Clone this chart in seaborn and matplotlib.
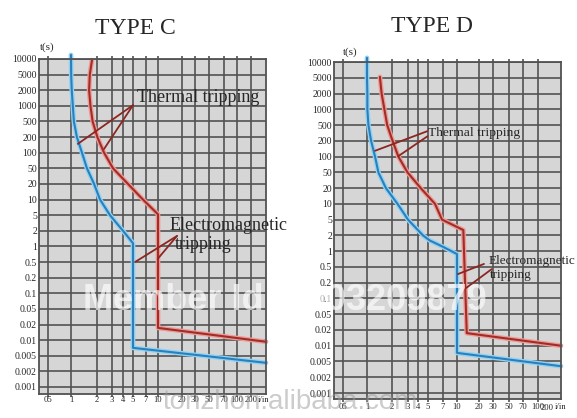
import matplotlib
matplotlib.use("Agg")
import matplotlib.pyplot as plt
import numpy as np
import pandas as pd
import seaborn as sns

# time axis (s), top to bottom, evenly spaced rows in the chart
t_levels = [10000, 5000, 2000, 1000, 500, 200, 100, 50, 20, 10, 5, 2, 1,
            0.5, 0.2, 0.1, 0.05, 0.02, 0.01, 0.005, 0.002, 0.001]
t_labels = ["10000", "5000", "2000", "1000", "500", "200", "100", "50", "20",
            "10", "5", "2", "1", "0.5", "0.2", "0.1", "0.05", "0.02", "0.01",
            "0.005", "0.002", "0.001"]

# current multiples (I/In)
i_levels_c = [0.5, 1, 2, 3, 4, 5, 7, 10, 20, 30, 50, 70, 100, 200]
i_labels_c = ["05", "1", "2", "3", "4", "5", "7", "10", "20", "30", "50",
              "70", "100", "200"]
i_levels_d = [0.5, 1, 2, 3, 4, 5, 7, 10, 20, 30, 50, 70, 100]
i_labels_d = ["05", "1", "2", "3", "4", "5", "7", "10", "20", "30", "50",
              "70", "100"]

# TYPE C curves
c_blue_i = [1.0, 1.005, 1.02, 1.05, 1.08, 1.17, 1.34, 1.53, 1.85, 2.17, 2.84, 4.0, 5.0, 5.0, 300]
c_blue_t = [12000, 5000, 2000, 1000, 500, 200, 100, 50, 20, 10, 5, 2, 1.15, 0.0071, 0.0033]
c_red_i = [1.75, 1.65, 1.62, 1.68, 1.78, 2.02, 2.42, 3.08, 4.47, 6.47, 10.0, 10.0, 300]
c_red_t = [9500, 5000, 2000, 1000, 500, 200, 100, 50, 20, 10, 5.2, 0.0172, 0.0093]

# TYPE D curves
d_blue_i = [1.0, 1.0, 1.01, 1.01, 1.04, 1.12, 1.25, 1.37, 1.69, 2.3, 3.0, 4.47, 5.2, 7.0, 10.0, 10.0, 600]
d_blue_t = [12000, 5000, 2000, 1000, 500, 200, 100, 50, 20, 10, 5, 2, 1.6, 1.21, 0.88, 0.0073, 0.0038]
d_red_i = [1.43, 1.50, 1.62, 1.75, 2.03, 2.35, 2.96, 4.25, 5.85, 6.85, 12.2, 13.6, 600]
d_red_t = [5200, 2000, 1000, 500, 200, 100, 50, 20, 10, 5, 2.73, 0.0174, 0.01]

# leader lines (apex -> point on curve)
c_thermal_leads = [((5.0, 1030), (1.2, 148)), ((5.0, 1030), (2.42, 118))]
c_em_leads = [((17.3, 1.59), (5.27, 0.5)), ((17.3, 1.59), (9.9, 0.574))]
d_thermal_leads = [((4.97, 353), (1.25, 129)), ((4.97, 263), (2.35, 102))]
d_em_leads = [((23.1, 0.57), (10.3, 0.33)), ((28.9, 0.44), (13.3, 0.158))]

BLUE = "#2b7fbd"
BLUE_HALO = "#8fd3f3"
RED = "#a02d27"
RED_HALO = "#ee9a96"
GRID = "#525252"
BG = "#d6d6d6"


def make_scale(vals, pos):
    lv = np.log10(np.asarray(vals, float))
    p = np.asarray(pos, float)

    def fwd(v):
        v = np.clip(np.asarray(v, float), 1e-9, None)
        return np.interp(np.log10(v), lv, p)

    def inv(q):
        return 10 ** np.interp(np.asarray(q, float), p, lv)

    return fwd, inv


# y: evenly spaced rows; one extra anchor above and below
y_vals = [0.0005] + t_levels[::-1] + [20000]
y_pos = [-22] + [-k for k in range(len(t_levels) - 1, -1, -1)] + [1]
y_fwd, y_inv = make_scale(y_vals, y_pos)

# x: grid column positions (px from the left border)
x_fwd_c, x_inv_c = make_scale(
    [0.38] + i_levels_c + [300],
    [0, 9, 32, 58, 73, 84, 94, 107, 119, 143, 156, 170, 185, 198, 212, 227])
x_fwd_d, x_inv_d = make_scale(
    [0.38] + i_levels_d + [600],
    [0, 9, 33, 58, 74, 84, 94, 109, 123, 145, 159, 175, 189, 204, 227])

sns.set_style("white")
plt.rcParams["font.family"] = ["Liberation Serif", "DejaVu Serif"]

W, H = 577, 418
fig = plt.figure(figsize=(W / 100, H / 100), dpi=100)
ax_c = fig.add_axes([39 / W, 1 - 394 / H, 227 / W, 335 / H])
ax_d = fig.add_axes([334 / W, 1 - 399 / H, 227 / W, 337 / H])


def setup_axes(ax, x_fns, i_levels, i_labels, xmax, bottom_idx, tick_pad):
    ax.set_xscale("function", functions=x_fns)
    ax.set_yscale("function", functions=(y_fwd, y_inv))
    ax.set_xlim(0.38, xmax)
    ax.set_ylim(float(y_inv(-bottom_idx)), 10000)
    ax.set_facecolor(BG)
    ax.set_xticks(i_levels, labels=i_labels)
    ax.set_yticks(t_levels, labels=t_labels)
    ax.minorticks_off()
    ax.grid(True, which="major", color=GRID, lw=1.2)
    ax.set_axisbelow(True)
    for s in ax.spines.values():
        s.set_color(GRID)
        s.set_linewidth(1.3)
    ax.tick_params(axis="x", which="major", top=True, bottom=True, direction="out",
                   length=2.5, width=1.2, color=GRID, labelsize=6.2,
                   pad=tick_pad)
    ax.tick_params(axis="y", length=0, labelsize=7, pad=1.5)


def draw_curve(ax, xs, ys, color, halo):
    df = pd.DataFrame({"I/In": xs, "t": ys})
    sns.lineplot(data=df, x="I/In", y="t", ax=ax, sort=False, estimator=None,
                 color=halo, lw=3.4, clip_on=False)
    sns.lineplot(data=df, x="I/In", y="t", ax=ax, sort=False, estimator=None,
                 color=color, lw=1.5, clip_on=False)
    ax.set_xlabel("")
    ax.set_ylabel("")


def draw_leads(ax, leads):
    for start, end in leads:
        ax.annotate("", xy=end, xytext=start, xycoords="data",
                    arrowprops=dict(arrowstyle="-", color="#8c2621", lw=1.3,
                                    shrinkA=0, shrinkB=0))


# TYPE C
setup_axes(ax_c, (x_fwd_c, x_inv_c), i_levels_c, i_labels_c, 300, 21.45, -1.0)
draw_curve(ax_c, c_blue_i, c_blue_t, BLUE, BLUE_HALO)
draw_curve(ax_c, c_red_i, c_red_t, RED, RED_HALO)
draw_leads(ax_c, c_thermal_leads)
draw_leads(ax_c, c_em_leads)
ax_c.text(0.423, 1.09, "TYPE C", transform=ax_c.transAxes, ha="center",
          va="center", fontsize=17)
ax_c.text(0.035, 1.036, "t(s)", transform=ax_c.transAxes, ha="center",
          va="center", fontsize=8)
ax_c.text(0.432, 0.884, "Thermal tripping", transform=ax_c.transAxes,
          ha="left", va="center", fontsize=13)
ax_c.text(0.577, 0.504, "Electromagnetic", transform=ax_c.transAxes,
          ha="left", va="center", fontsize=13, clip_on=False)
ax_c.text(0.599, 0.445, "tripping", transform=ax_c.transAxes,
          ha="left", va="center", fontsize=13)
ax_c.text(0.99, -0.007, "i/in", transform=ax_c.transAxes, ha="center",
          va="top", fontsize=6.2)

# TYPE D
setup_axes(ax_d, (x_fwd_d, x_inv_d), i_levels_d, i_labels_d, 600, 21.38, 0.3)
ax_d.set_xticks([200], labels=["200"], minor=True)
ax_d.tick_params(axis="x", which="minor", length=0, labelsize=6.2, pad=3.8)
draw_curve(ax_d, d_blue_i, d_blue_t, BLUE, BLUE_HALO)
draw_curve(ax_d, d_red_i, d_red_t, RED, RED_HALO)
draw_leads(ax_d, d_thermal_leads)
draw_leads(ax_d, d_em_leads)
ax_d.text(0.43, 1.105, "TYPE D", transform=ax_d.transAxes, ha="center",
          va="center", fontsize=17)
ax_d.text(0.07, 1.03, "t(s)", transform=ax_d.transAxes, ha="center",
          va="center", fontsize=8)
ax_d.text(0.414, 0.789, "Thermal tripping", transform=ax_d.transAxes,
          ha="left", va="center", fontsize=9.7)
ax_d.text(0.683, 0.409, "Electromagnetic", transform=ax_d.transAxes,
          ha="left", va="center", fontsize=9.5)
ax_d.text(0.687, 0.368, "tripping", transform=ax_d.transAxes,
          ha="left", va="center", fontsize=9.5)
ax_d.text(1.0, -0.013, "i/in", transform=ax_d.transAxes, ha="center",
          va="top", fontsize=6.2)

# watermarks
fig.text(0.494, 0.282, "Member Id: 1003209879", color="white", alpha=0.65,
         fontsize=26, fontweight="bold", family="Liberation Sans",
         ha="center", va="center")
fig.text(0.504, 0.038, "tonzhon.alibaba.com", color="#9a9a9a", alpha=0.5,
         fontsize=20, family="Liberation Sans", ha="center", va="center")

fig.savefig("out.png", dpi=100, facecolor="white")
